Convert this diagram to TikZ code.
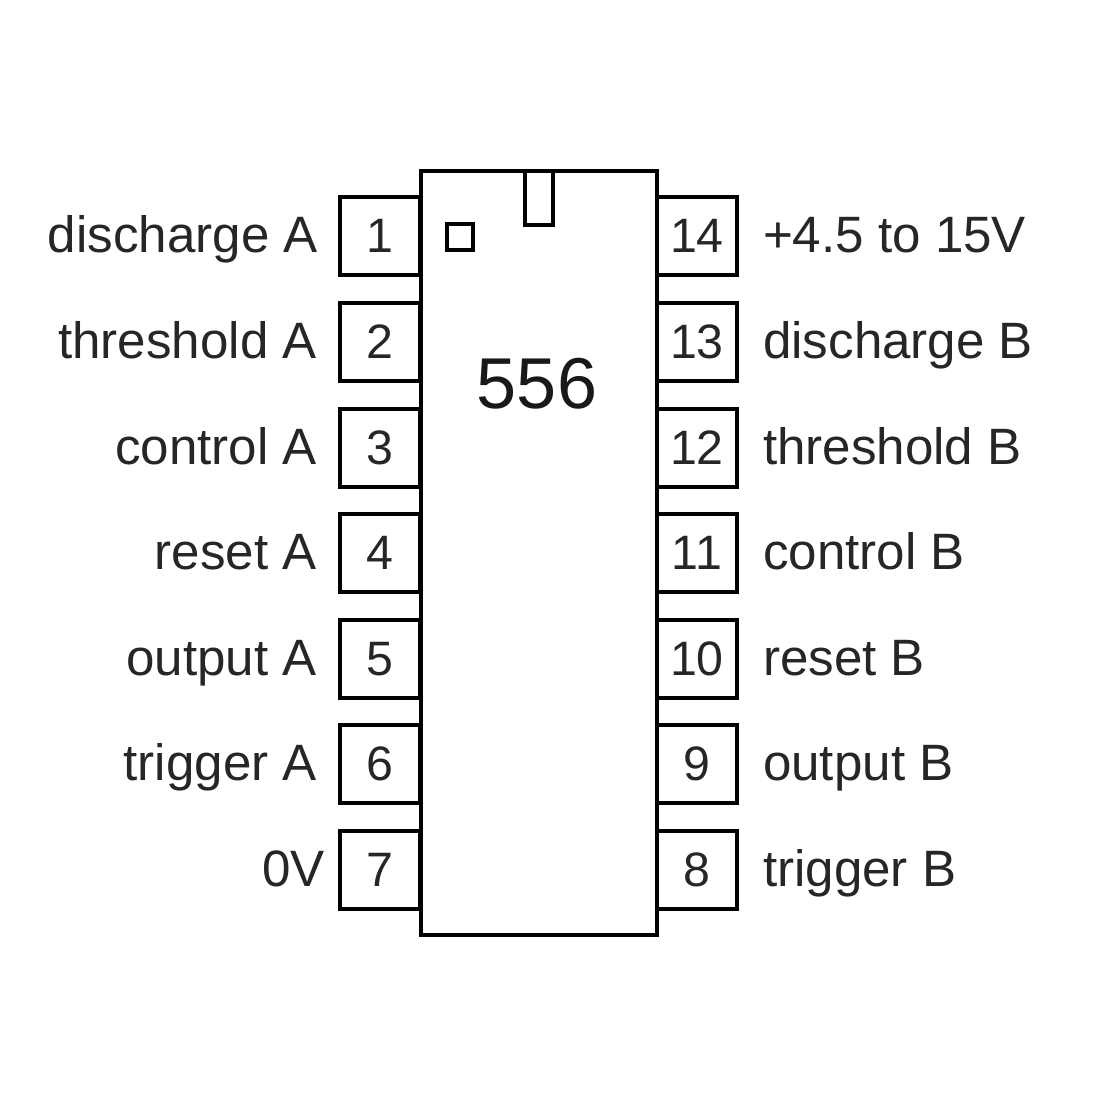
\documentclass[tikz,border=0pt]{standalone}
\usepackage{fontspec}
\setmainfont{Liberation Sans}
\usepackage{tikz}
\usetikzlibrary{positioning}
\tikzset{
    px/.style={x=0.02cm, y=-0.02cm},
    chip/.style={draw, line width=2pt, minimum width=4.72cm, minimum height=15.28cm, inner sep=0pt},
    pinbox/.style={draw, line width=2pt, minimum width=1.6cm, minimum height=1.56cm, inner sep=0pt, text=black!85, font=\fontsize{27.5}{27.5}\selectfont},
    pinlabel/.style={font=\fontsize{29.1}{29.1}\selectfont, inner sep=0pt, text height=21pt, text depth=0pt, yshift=1pt, text=black!85},
}
\begin{document}
\begin{tikzpicture}[px]
    \useasboundingbox (0,0) rectangle (1100,1100);
    \foreach \n/\y in {1/236, 2/342, 3/448, 4/553, 5/659, 6/764, 7/870} {
        \node [pinbox] (p\n) at (380,\y) {\n};
    }
    \foreach \n/\y in {14/236, 13/342, 12/448, 11/553, 10/659, 9/764, 8/870} {
        \node [pinbox] (p\n) at (697,\y) {\n};
    }
    \node [chip, fill=white] (body) at (539,553) {};
    \node [font=\fontsize{41}{41}\selectfont, inner sep=0pt, text=black!90] (title) at (537,384) {556};
    \node [draw, line width=2pt, minimum size=0.52cm, inner sep=0pt] (dot) at (460,237) {};
    \coordinate (nl) at (525,171);
    \coordinate (nr) at (553,171);
    \draw [line width=2pt] (nl) -- (525,225) -- (553,225) -- (nr);
    \node [pinlabel, left=0.40cm of p1] (la) {discharge A};
    \node [pinlabel, left=0.42cm of p2] (lb) {threshold A};
    \node [pinlabel, left=0.42cm of p3] (lc) {control A};
    \node [pinlabel, left=0.42cm of p4] (ld) {reset A};
    \node [pinlabel, left=0.42cm of p5] (le) {output A};
    \node [pinlabel, left=0.42cm of p6] (lf) {trigger A};
    \node [pinlabel, left=0.26cm of p7] (lg) {0V};
    \node [pinlabel, right=0.48cm of p14] (ln) {+4.5 to 15V};
    \node [pinlabel, right=0.48cm of p13] (lm) {discharge B};
    \node [pinlabel, right=0.48cm of p12] (ll) {threshold B};
    \node [pinlabel, right=0.48cm of p11] (lk) {control B};
    \node [pinlabel, right=0.48cm of p10] (lj) {reset B};
    \node [pinlabel, right=0.48cm of p9] (li) {output B};
    \node [pinlabel, right=0.48cm of p8] (lh) {trigger B};
\end{tikzpicture}
\end{document}
